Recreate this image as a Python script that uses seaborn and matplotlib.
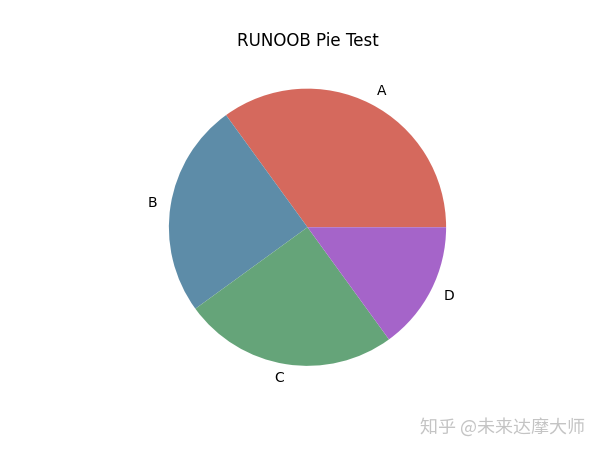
import matplotlib
matplotlib.use("Agg")
import matplotlib.pyplot as plt
import seaborn as sns

sns.set_style("white", rc={"text.color": "black", "axes.labelcolor": "black"})
plt.rcParams['font.family'] = ['DejaVu Sans', 'Noto Sans CJK SC']
plt.rcParams['patch.edgecolor'] = 'none'
plt.rcParams['patch.force_edgecolor'] = False

labels = ['A', 'B', 'C', 'D']
values = [35, 25, 25, 15]
colors = sns.color_palette(["#d5695d", "#5d8ca8", "#65a479", "#a564c9"])

fig, ax = plt.subplots(figsize=(6, 4.5), dpi=100)
ax.pie(values, labels=labels, colors=colors, wedgeprops={"linewidth": 0, "edgecolor": "none"})
ax.set_title("RUNOOB Pie Test", color="black")
fig.text(0.975, 0.05, "知乎 @未来达摩大师", ha='right', va='center', fontsize=13,
         color='#c4c4c4', family=['Noto Sans CJK SC', 'DejaVu Sans'])
fig.savefig("out.png", dpi=100)
